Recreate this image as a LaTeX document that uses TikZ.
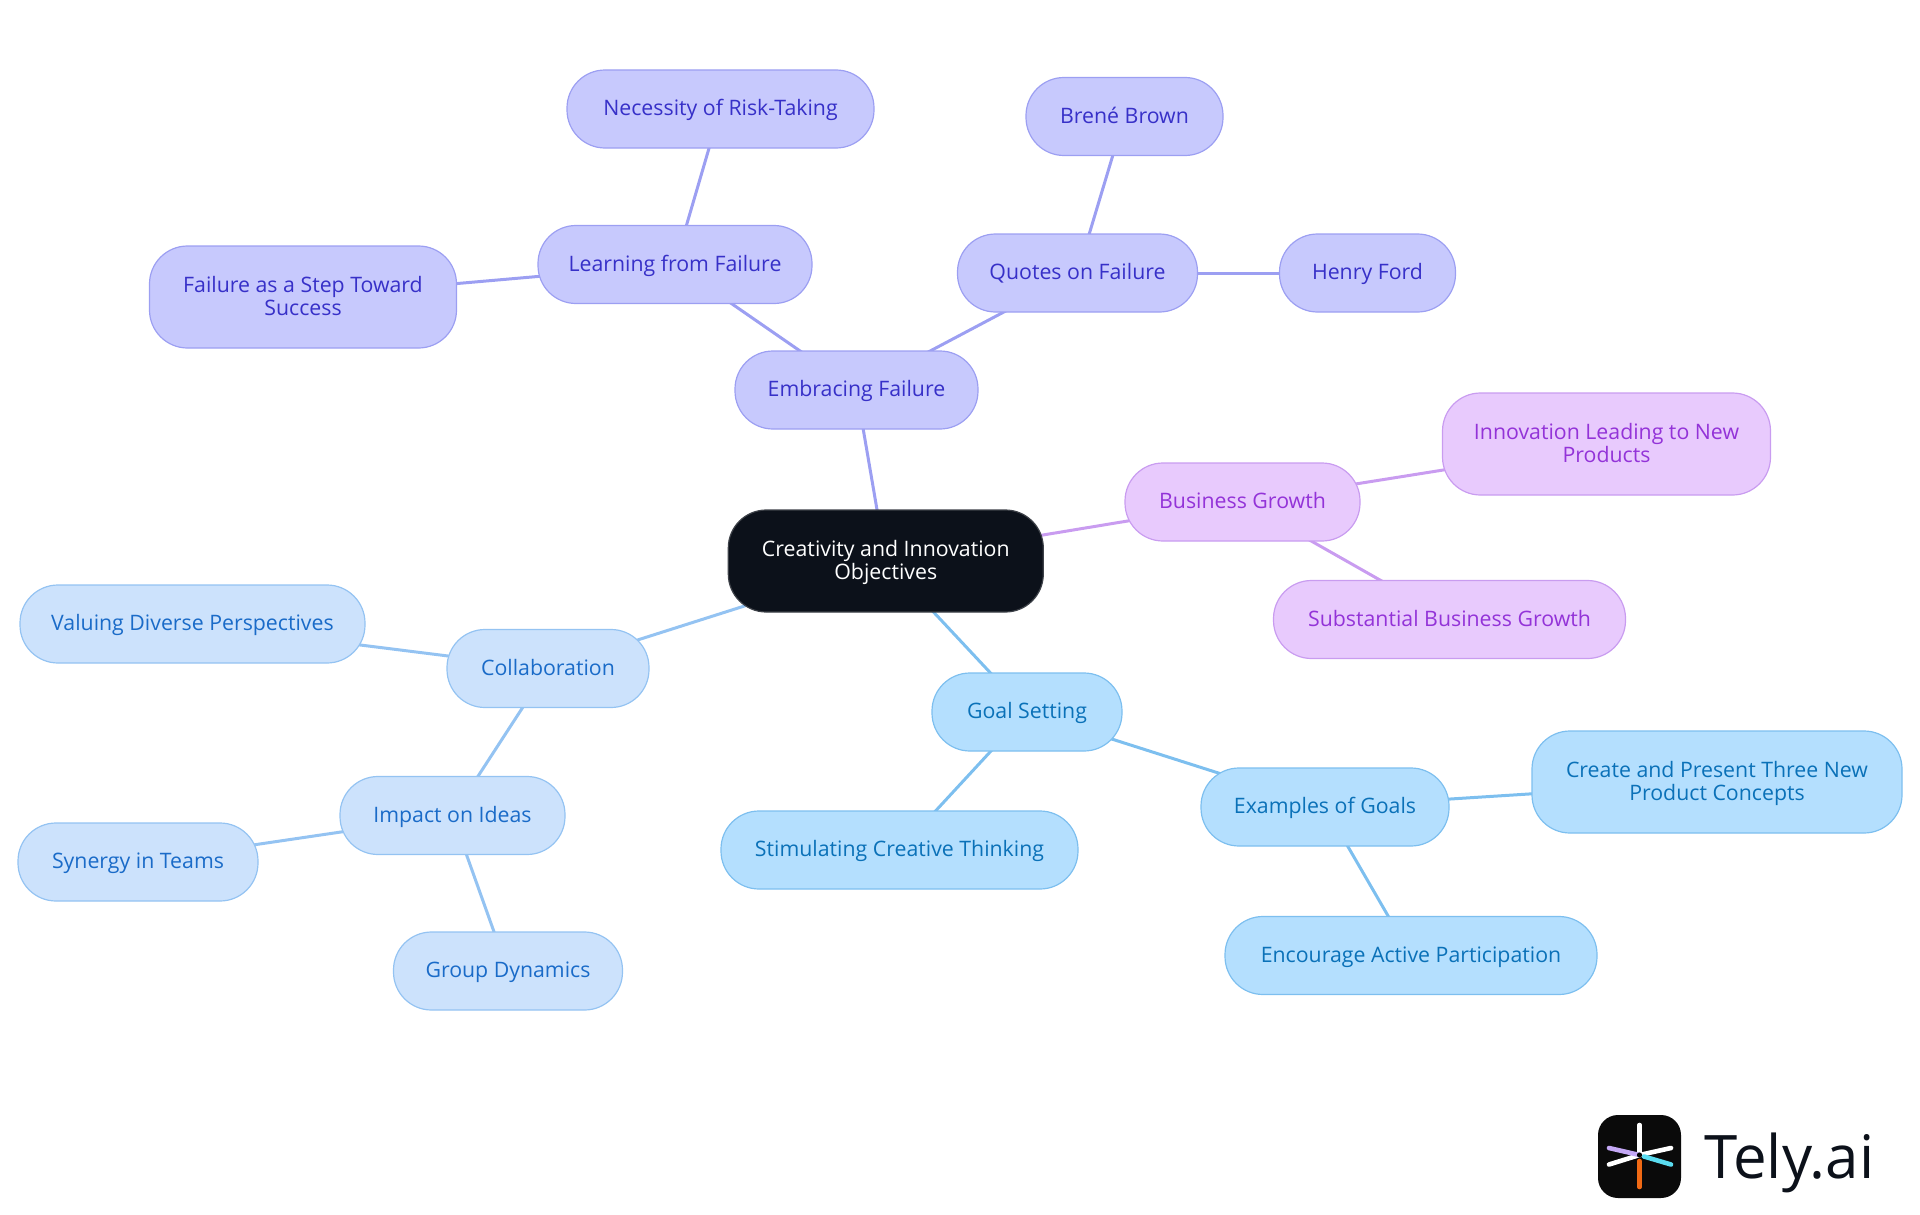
\documentclass[tikz,border=0pt]{standalone}
\usepackage{fontspec}
\setmainfont{Open Sans}
\usetikzlibrary{backgrounds}
\definecolor{rootc}{HTML}{0C111A}
\definecolor{pF}{HTML}{C7C9FD}\definecolor{pD}{HTML}{9C9FF2}\definecolor{pT}{HTML}{3730C8}
\definecolor{mF}{HTML}{E8CAFD}\definecolor{mD}{HTML}{C99CF0}\definecolor{mT}{HTML}{9333D8}
\definecolor{bF}{HTML}{CCE2FC}\definecolor{bD}{HTML}{94C3F2}\definecolor{bT}{HTML}{1A6BC8}
\definecolor{sF}{HTML}{B4DFFE}\definecolor{sD}{HTML}{7DBFEF}\definecolor{sT}{HTML}{0A71B8}
\tikzset{
 x=1pt,y=-1pt,
 mm/.style={rounded corners=38pt,line width=1.2pt,align=center,inner sep=0pt,
   text height=17pt,text depth=4pt,
   font=\fontsize{21.3}{23}\selectfont},
 twolines/.style={text height=40pt,text depth=4pt},
 pn/.style={mm,fill=pF,draw=pD,text=pT},
 mn/.style={mm,fill=mF,draw=mD,text=mT},
 bn/.style={mm,fill=bF,draw=bD,text=bT},
 sn/.style={mm,fill=sF,draw=sD,text=sT},
 rn/.style={mm,fill=rootc,draw=rootc!80!white,text=white},
 pe/.style={line width=3pt,draw=pD},
 me/.style={line width=3pt,draw=mD},
 be/.style={line width=3pt,draw=bD},
 se/.style={line width=3pt,draw=sD},
 spoke/.style={line width=4.6pt,line cap=round},
}
\begin{document}
\begin{tikzpicture}
\useasboundingbox (0,0) rectangle (1920,1215);
\node[rn,twolines,minimum width=315pt,minimum height=102pt] (root) at (885.8,561) {Creativity and Innovation\\Objectives};
\node[pn,minimum width=243pt,minimum height=78pt] (emb) at (856.5,390) {Embracing Failure};
\node[pn,minimum width=307pt,minimum height=78pt] (risk) at (720.5,109) {Necessity of Risk-Taking};
\node[pn,minimum width=197pt,minimum height=78pt] (brene) at (1124.5,116.5) {Brené Brown};
\node[pn,minimum width=274pt,minimum height=78pt] (learn) at (675,264.5) {Learning from Failure};
\node[pn,twolines,minimum width=307pt,minimum height=102pt] (step) at (303,297) {Failure as a Step Toward\\Success};
\node[pn,minimum width=240pt,minimum height=78pt] (quotes) at (1077.5,273) {Quotes on Failure};
\node[pn,minimum width=176pt,minimum height=78pt] (henry) at (1367.5,273) {Henry Ford};
\node[mn,twolines,minimum width=328pt,minimum height=102pt] (innov) at (1606.5,444) {Innovation Leading to New\\Products};
\node[mn,minimum width=235pt,minimum height=78pt] (biz) at (1242.5,502) {Business Growth};
\node[mn,minimum width=352pt,minimum height=78pt] (subst) at (1449.5,619.5) {Substantial Business Growth};
\node[bn,minimum width=345pt,minimum height=78pt] (value) at (192.5,624) {Valuing Diverse Perspectives};
\node[bn,minimum width=202pt,minimum height=78pt] (collab) at (548,668.5) {Collaboration};
\node[bn,minimum width=225pt,minimum height=78pt] (impact) at (452.5,815.5) {Impact on Ideas};
\node[bn,minimum width=240pt,minimum height=78pt] (syn) at (138,862) {Synergy in Teams};
\node[bn,minimum width=229pt,minimum height=78pt] (group) at (508,971) {Group Dynamics};
\node[sn,minimum width=190pt,minimum height=78pt] (goal) at (1027,712) {Goal Setting};
\node[sn,minimum width=248pt,minimum height=78pt] (ex) at (1325,807) {Examples of Goals};
\node[sn,twolines,minimum width=370pt,minimum height=102pt] (create) at (1717,782) {Create and Present Three New\\Product Concepts};
\node[sn,minimum width=357pt,minimum height=78pt] (stim) at (899.5,850) {Stimulating Creative Thinking};
\node[sn,minimum width=372pt,minimum height=78pt] (enc) at (1411,955.5) {Encourage Active Participation};
\begin{scope}[on background layer]
\draw[pe] (root.center)--(emb.center);
\draw[pe] (emb.center)--(learn.center);
\draw[pe] (emb.center)--(quotes.center);
\draw[pe] (learn.center)--(risk.center);
\draw[pe] (learn.center)--(step.center);
\draw[pe] (quotes.center)--(brene.center);
\draw[pe] (quotes.center)--(henry.center);
\draw[me] (root.center)--(biz.center);
\draw[me] (biz.center)--(innov.center);
\draw[me] (biz.center)--(subst.center);
\draw[be] (root.center)--(collab.center);
\draw[be] (collab.center)--(value.center);
\draw[be] (collab.center)--(impact.center);
\draw[be] (impact.center)--(syn.center);
\draw[be] (impact.center)--(group.center);
\draw[se] (root.center)--(goal.center);
\draw[se] (goal.center)--(stim.center);
\draw[se] (goal.center)--(ex.center);
\draw[se] (ex.center)--(create.center);
\draw[se] (ex.center)--(enc.center);
\end{scope}
% logo
\fill[black!96!white,rounded corners=20pt] (1598,1115) rectangle (1681,1198);
\coordinate (hub) at (1639.5,1155);
\coordinate (sTop) at (1639.5,1125);
\coordinate (sBot) at (1639.5,1187);
\coordinate (sUL) at (1609,1148);
\coordinate (sUR) at (1671,1148);
\coordinate (sLL) at (1609,1164.5);
\coordinate (sLR) at (1671,1164.5);
\draw[spoke,white] (hub)--(sTop);
\draw[spoke,white] (hub)--(sUR);
\draw[spoke,white] (hub)--(sLL);
\draw[spoke,color={rgb,255:red,196;green,168;blue,245}] (hub)--(sUL);
\draw[spoke,color={rgb,255:red,90;green,220;blue,240}] (1644,1156.5)--(sLR);
\draw[spoke,color={rgb,255:red,240;green,105;blue,20}] (1639.5,1161)--(sBot);
\fill[black] (hub) circle (2.6pt);
\node[anchor=base west,inner sep=0pt,text=rootc,font=\fontsize{60}{60}\selectfont] (brand) at (1704,1178) {Tely.ai};
\end{tikzpicture}
\end{document}
